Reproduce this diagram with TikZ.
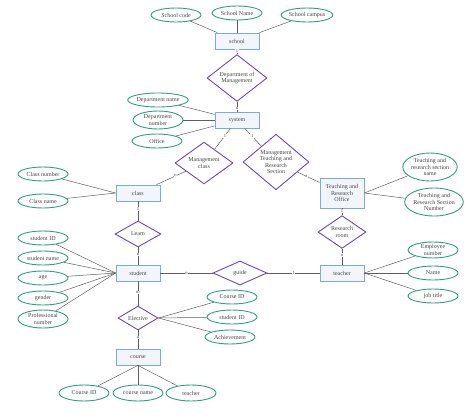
\documentclass[tikz,border=0pt]{standalone}
\usepackage{fontspec}
\setmainfont{Liberation Serif}
\usetikzlibrary{shapes.geometric}
\definecolor{entityblue}{RGB}{120,170,230}
\definecolor{entityfill}{RGB}{242,246,252}
\definecolor{attrgreen}{RGB}{45,160,130}
\definecolor{relpurple}{RGB}{110,70,200}
\definecolor{linkgray}{RGB}{95,95,95}
\definecolor{textgray}{RGB}{70,70,70}
\tikzset{
	entity/.style={draw=entityblue, fill=entityfill, line width=0.8pt, minimum width=44pt, minimum height=16pt, inner sep=1pt, align=center, text=textgray},
	attr/.style={ellipse, draw=attrgreen, line width=0.9pt, fill=white, minimum width=50pt, minimum height=14pt, inner sep=0pt, align=center, text=textgray},
	rel/.style={diamond, draw=relpurple, line width=0.9pt, fill=white, inner sep=0pt, align=center, text=textgray},
	link/.style={draw=linkgray, line width=0.5pt},
	card/.style={fill=white, inner sep=0.6pt, font=\fontsize{4.6}{4.6}\selectfont, text=textgray}
}
\begin{document}
\begin{tikzpicture}[x=1pt, y=-1pt, font=\fontsize{6}{6.5}\selectfont]
		\useasboundingbox (0,0) rectangle (474,418);
		% entities
		\node[entity] (school) at (237,41) {school};
		\node[entity] (system) at (237,120) {system};
		\node[entity] (class) at (138,193) {class};
		\node[entity, minimum height=30pt] (office) at (342,193) {Teaching and\\Research\\Office};
		\node[entity] (student) at (138,273) {student};
		\node[entity] (teacher) at (342,273) {teacher};
		\node[entity] (course) at (138,357) {course};
		% relationships
		\node[rel, minimum width=60pt, minimum height=40pt] (manage) at (237,78) {Department of\\Management};
		\node[rel, minimum width=58pt, minimum height=30pt] (mclass) at (204,163) {Management\\class};
		\node[rel, minimum width=66pt, minimum height=44pt] (msection) at (276,162) {Management\\Teaching and\\Research\\Section};
		\node[rel, minimum width=46pt, minimum height=26pt] (learn) at (138,234) {Learn};
		\node[rel, minimum width=48pt, minimum height=28pt] (room) at (342,232) {Research\\room};
		\node[rel, minimum width=54pt, minimum height=24pt] (guide) at (240,273) {guide};
		\node[rel, minimum width=40pt, minimum height=24pt] (elective) at (138,318) {Elective};
		% attributes
		\node[attr] (scode) at (176,15) {School code};
		\node[attr] (sname) at (237,13) {School Name};
		\node[attr] (scampus) at (307,15) {School campus};
		\node[attr] (dname) at (158,100) {Department name};
		\node[attr, minimum height=18pt] (dnumber) at (158,120) {Department\\number};
		\node[attr] (doffice) at (157,141) {Office};
		\node[attr] (cnumber) at (43,174) {Class number};
		\node[attr] (cname) at (43,201) {Class name};
		\node[attr, minimum height=28pt] (tsname) at (430,167) {Teaching and\\research section\\name};
		\node[attr, minimum height=28pt] (tsnumber) at (434,202) {Teaching and\\Research Section\\Number};
		\node[attr] (stid) at (43,238) {student ID};
		\node[attr] (stname) at (43,258) {student name};
		\node[attr] (stage) at (43,278) {age};
		\node[attr] (stgender) at (43,298) {gender};
		\node[attr, minimum height=18pt] (stprof) at (43,319) {Professional\\number};
		\node[attr, minimum height=16pt] (tnumber) at (433,250) {Employee\\number};
		\node[attr] (tname) at (433,273) {Name};
		\node[attr] (ttitle) at (433,296) {job title};
		\node[attr] (ecid) at (232,297) {Course ID};
		\node[attr] (esid) at (232,317) {student ID};
		\node[attr] (eachieve) at (230,337) {Achievement};
		\node[attr, minimum height=16pt] (cid) at (84,393) {Course ID};
		\node[attr, minimum height=16pt] (ccname) at (138,393) {course name};
		\node[attr, minimum height=16pt] (cteacher) at (191,393) {teacher};
		% attribute links
		\foreach \a in {scode,sname,scampus} \draw[link] (school) -- (\a);
		\foreach \a in {dname,dnumber,doffice} \draw[link] (system) -- (\a);
		\foreach \a in {cnumber,cname} \draw[link] (class.west) -- (\a);
		\foreach \a in {tsname,tsnumber} \draw[link] (office.east) -- (\a);
		\foreach \a in {stid,stname,stage,stgender,stprof} \draw[link] (student.west) -- (\a);
		\foreach \a in {tnumber,tname,ttitle} \draw[link] (teacher.east) -- (\a);
		\foreach \a in {ecid,esid,eachieve} \draw[link] (elective.east) -- (\a);
		\foreach \a in {cid,ccname,cteacher} \draw[link] (course.south) -- (\a);
		% relationship links
		\draw[link] (school) -- node[card, pos=0.3] {1} (manage);
		\draw[link] (manage) -- node[card, pos=0.7] {n} (system);
		\draw[link] (system) -- node[card, pos=0.35] {1} (mclass);
		\draw[link] (mclass) -- node[card, pos=0.35] {n} (class);
		\draw[link] (system) -- node[card, pos=0.45] {1} (msection);
		\draw[link] (msection) -- node[card, pos=0.4] {n} (office);
		\draw[link] (class) -- node[card, pos=0.4] {1} (learn);
		\draw[link] (learn) -- node[card, pos=0.4] {n} (student);
		\draw[link] (office) -- node[card, pos=0.4] {1} (room);
		\draw[link] (room) -- node[card, pos=0.4] {n} (teacher);
		\draw[link] (student) -- node[card, pos=0.5] {n} (guide);
		\draw[link] (guide) -- node[card, pos=0.5] {1} (teacher);
		\draw[link] (student) -- node[card, pos=0.45] {m} (elective);
		\draw[link] (elective) -- node[card, pos=0.4] {n} (course);
	\end{tikzpicture}
\end{document}
